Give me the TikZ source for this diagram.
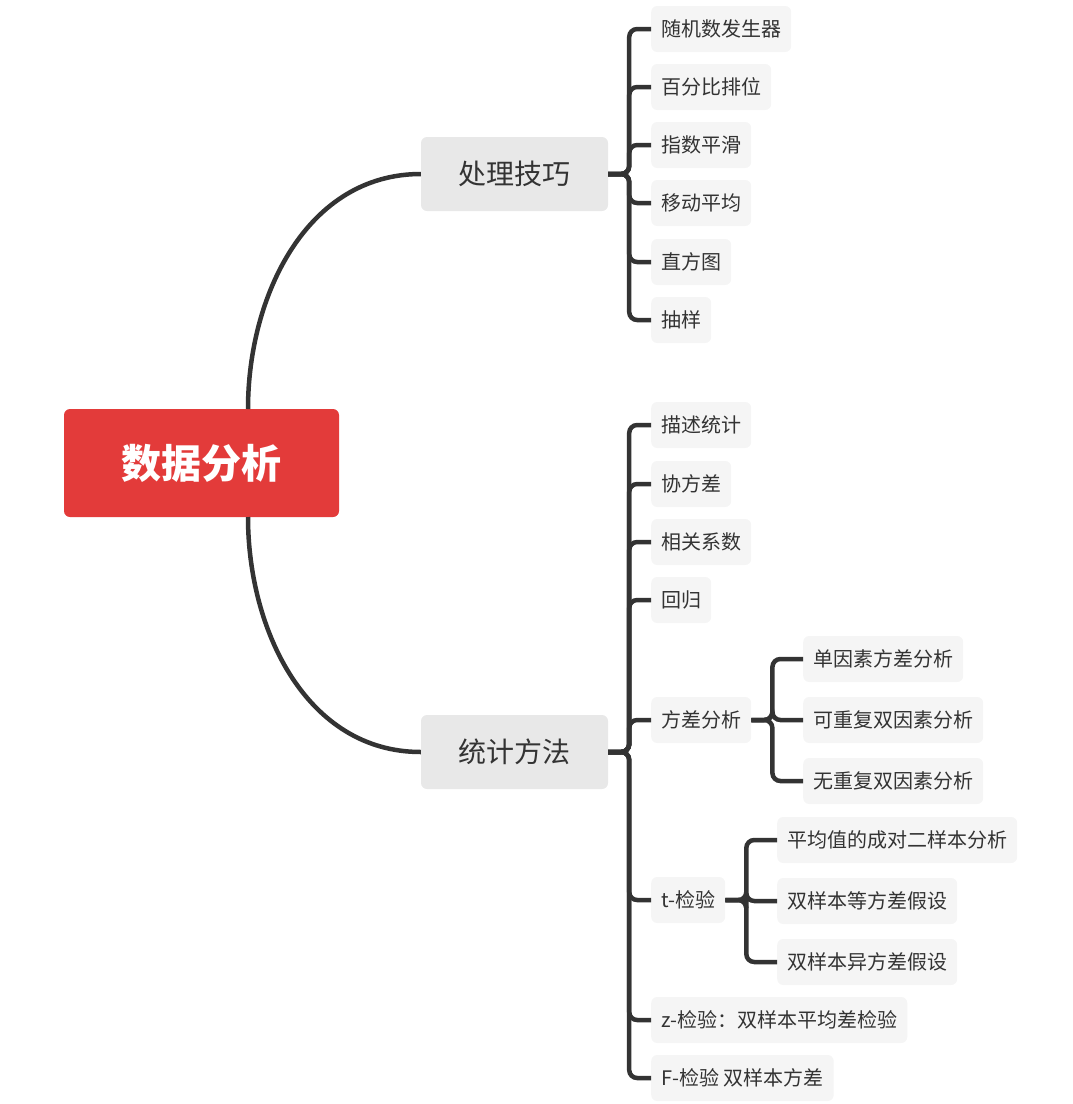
\documentclass[tikz,border=0pt]{standalone}
\usepackage{fontspec}
\setmainfont{Noto Sans CJK SC}
\usepackage{tikz}
\definecolor{rootred}{HTML}{E33B3A}
\definecolor{linegray}{HTML}{333333}
\begin{document}
\begin{tikzpicture}
	[x=1pt, y=-1pt,
	root node/.style={rectangle, rounded corners=6pt, fill=rootred, text=white, font=\fontsize{40}{44}\selectfont\bfseries, minimum width=275pt, minimum height=108pt},
	main node/.style={rectangle, rounded corners=6pt, fill=black!9, text=linegray, font=\fontsize{28}{32}\selectfont, minimum width=187pt, minimum height=74pt},
	leaf node/.style={rectangle, rounded corners=6pt, fill=black!4, text=linegray, font=\fontsize{20}{24}\selectfont, minimum height=46pt, inner xsep=10pt, anchor=west},
	link/.style={draw=linegray, line width=4.5pt, rounded corners=8pt}]
	\useasboundingbox (0,0) rectangle (1072,1104);

	\node[root node] (root) at (201.5,463) {数据分析};
	\node[main node] (skill) at (514.5,174) {处理技巧};
	\node[main node] (stat) at (514.5,752) {统计方法};

	%root to branches
	\draw[link] (248,409) to[out=90, in=180] (skill.west);
	\draw[link] (248,517) to[out=-90, in=180] (stat.west);

	%leaves of skill
	\foreach \name/\y/\txt in {s1/29/随机数发生器, s2/87/百分比排位, s3/145/指数平滑, s4/203/移动平均, s5/262/直方图, s6/320/抽样}{
		\node[leaf node] (\name) at (651,\y) {\txt};
		\draw[link] (skill.east) -- ++(21,0) |- (\name.west);
	}

	%leaves of stat
	\foreach \name/\y/\txt in {m1/425/描述统计, m2/484/协方差, m3/542/相关系数, m4/600/回归, m5/720/方差分析, m6/900/t-检验, m7/1020/z-检验：双样本平均差检验, m8/1078/F-检验 双样本方差}{
		\node[leaf node] (\name) at (651,\y) {\txt};
		\draw[link] (stat.east) -- ++(21,0) |- (\name.west);
	}

	%anova
	\foreach \name/\y/\txt in {a1/659/单因素方差分析, a2/720/可重复双因素分析, a3/781/无重复双因素分析}{
		\node[leaf node] (\name) at (803,\y) {\txt};
		\draw[link] (m5.east) -- ++(21,0) |- (\name.west);
	}

	%t-test
	\foreach \name/\y/\txt in {t1/840/平均值的成对二样本分析, t2/901/双样本等方差假设, t3/962/双样本异方差假设}{
		\node[leaf node] (\name) at (777,\y) {\txt};
		\draw[link] (m6.east) -- ++(21,0) |- (\name.west);
	}
\end{tikzpicture}
\end{document}
